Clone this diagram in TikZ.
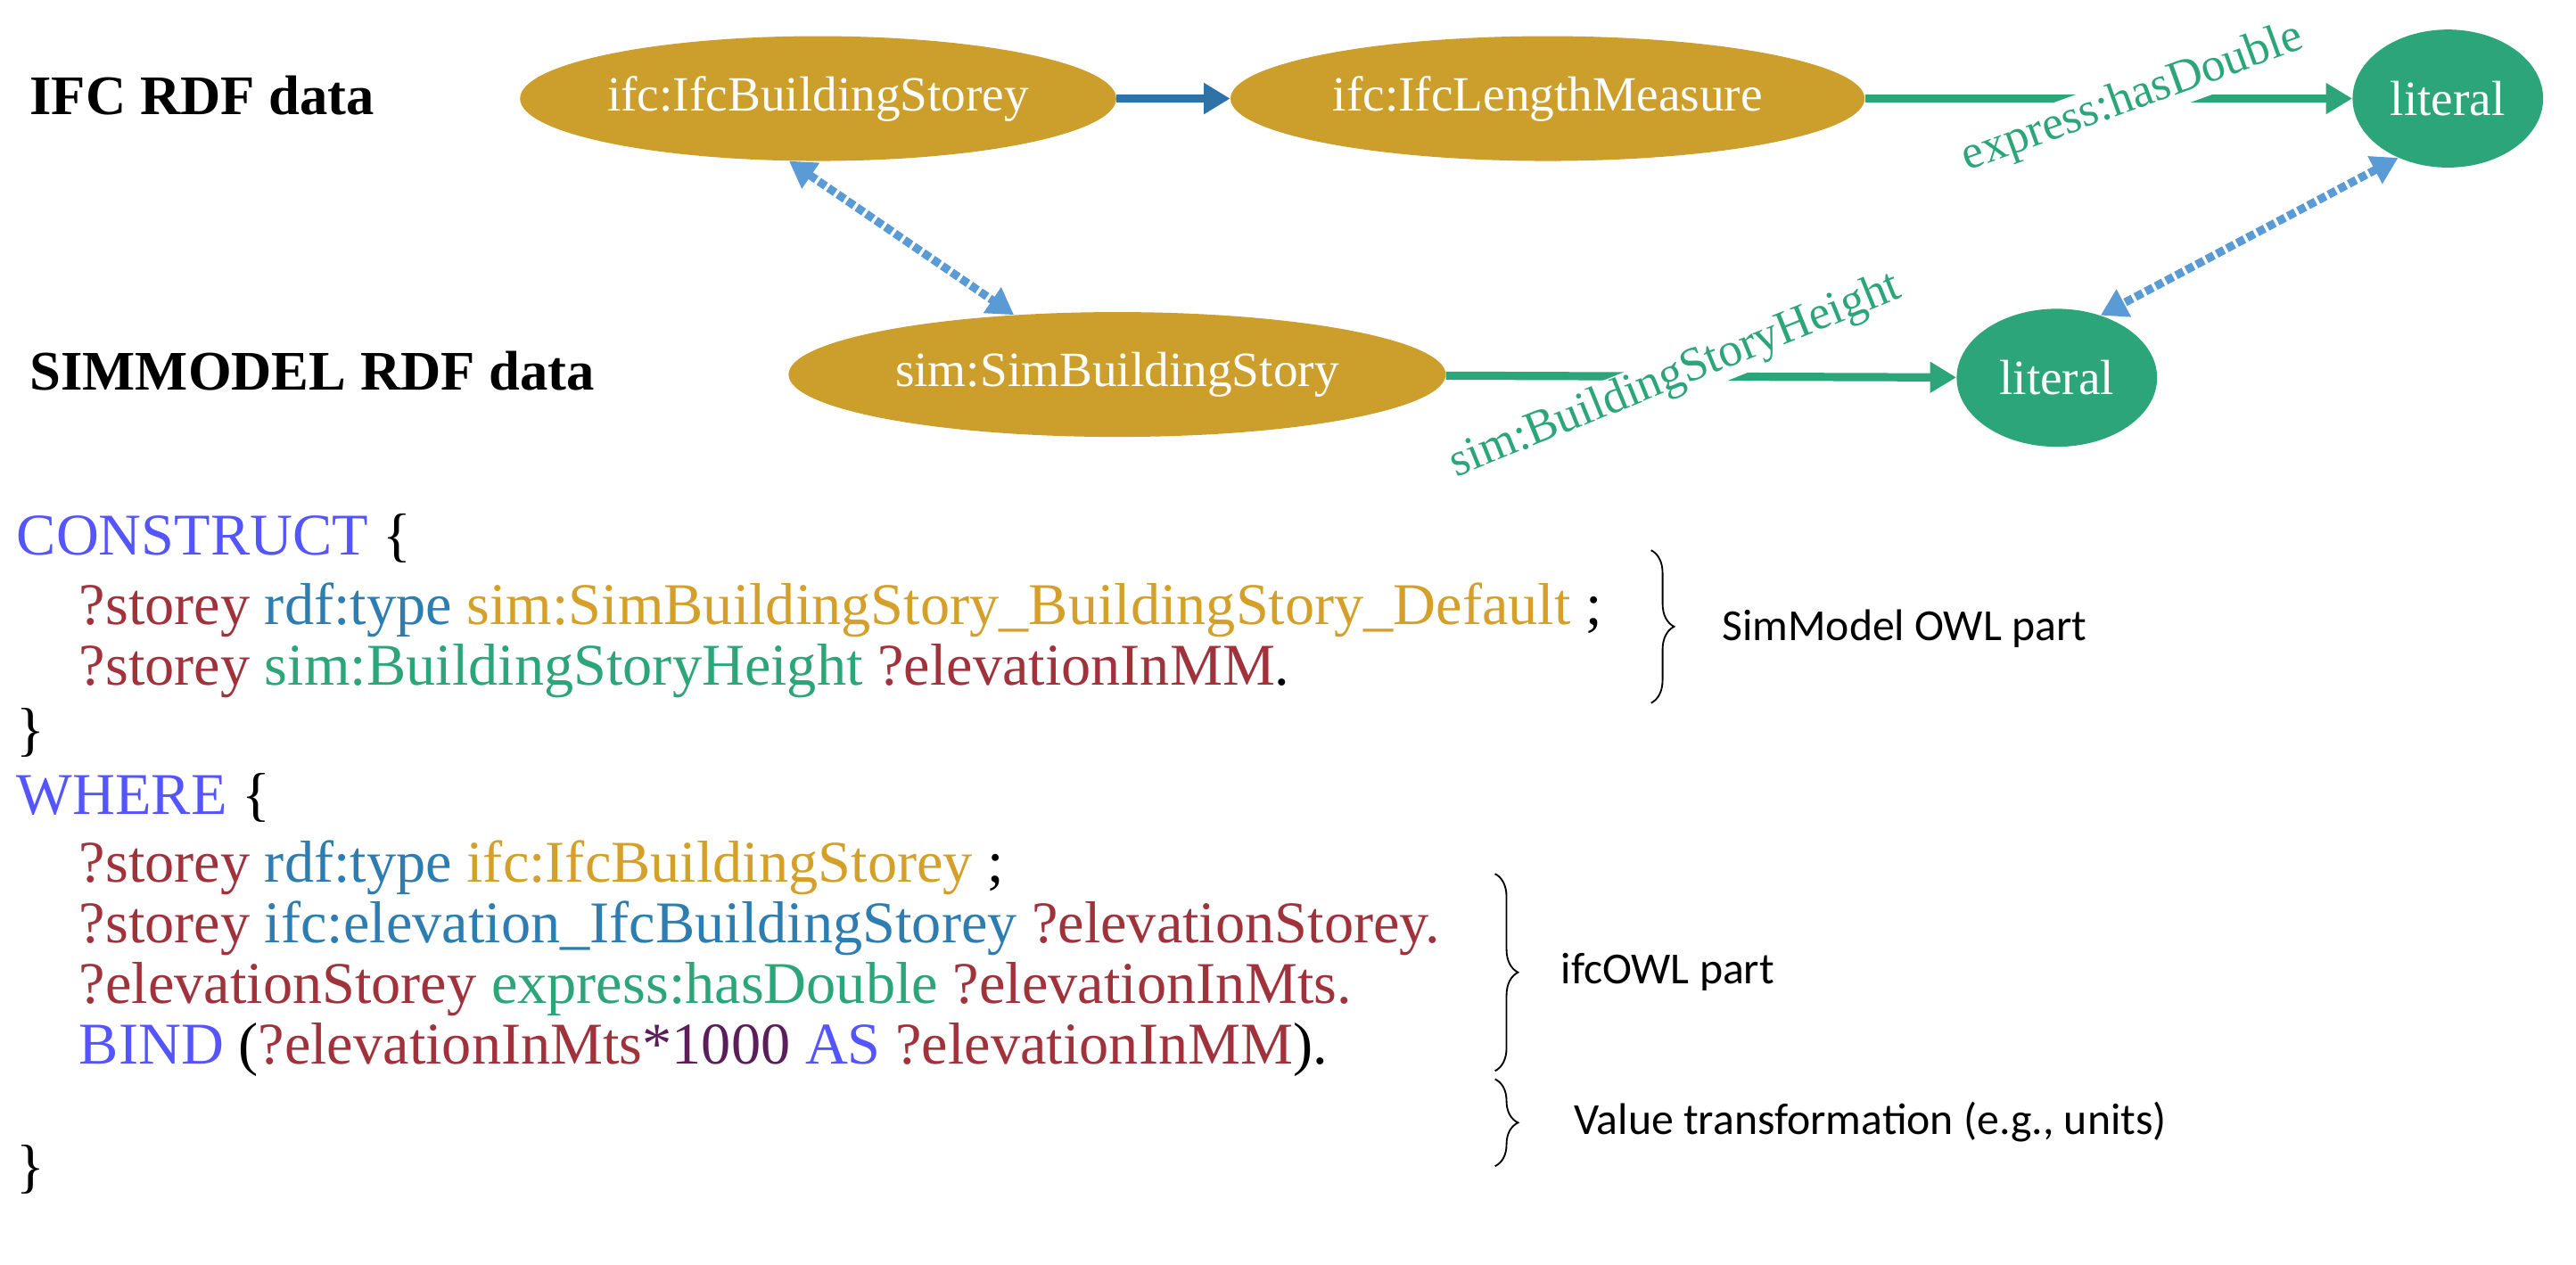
\documentclass[tikz,border=0pt]{standalone}
\usepackage{fontspec}
\setmainfont{Liberation Serif}
\newfontfamily\carfont{Carlito}
\usetikzlibrary{shapes.geometric,arrows.meta,decorations.pathreplacing}
\definecolor{gold}{HTML}{CC9F2C}
\definecolor{grn}{HTML}{2CA57A}
\definecolor{dblue}{HTML}{2E72A8}
\definecolor{lblue}{HTML}{5B9BD5}
\definecolor{kw}{HTML}{5555FF}
\definecolor{vr}{HTML}{A0323C}
\definecolor{pr}{HTML}{2E7DB0}
\definecolor{cl}{HTML}{D4A02A}
\definecolor{num}{HTML}{5A1E5A}
\begin{document}
\begin{tikzpicture}[x=1pt,y=-1pt,
  ell/.style={ellipse,fill=gold,inner sep=0pt,text=white,font=\fontsize{30}{34}\selectfont},
  lit/.style={ellipse,fill=grn,inner sep=0pt,text=white,font=\fontsize{30}{34}\selectfont},
  code/.style={anchor=base west,inner sep=0pt,font=\fontsize{36}{40}\selectfont},
  side/.style={anchor=west,inner sep=0pt,font=\carfont\fontsize{27}{32}\selectfont},
  hd/.style={anchor=west,inner sep=0pt,font=\bfseries\fontsize{34}{38}\selectfont},
  gline/.style={grn,line width=5pt,-{Triangle[length=16pt,width=18pt]}},
  elab/.style={fill=white,text=grn,inner sep=1pt,font=\fontsize{29}{32}\selectfont},
  dbl/.style={lblue,line width=5pt,dotted,{Triangle[length=16pt,width=18pt]}-{Triangle[length=16pt,width=18pt]}},
  br/.style={decorate,decoration={brace,amplitude=14pt},line width=1pt}]
\useasboundingbox (0,0) rectangle (1568,770);
\node[hd] (h1) at (18,58) {IFC RDF data};
\node[hd] (h2) at (18,226) {SIMMODEL RDF data};
\node[ell,minimum width=300pt,minimum height=76pt] (A) at (498,60) {ifc:IfcBuildingStorey};
\node[ell,minimum width=386pt,minimum height=76pt] (B) at (942,60) {ifc:IfcLengthMeasure};
\node[lit,minimum width=116pt,minimum height=84pt] (L1) at (1490,60) {literal};
\node[ell,minimum width=400pt,minimum height=76pt] (C) at (680,228) {sim:SimBuildingStory};
\node[lit,minimum width=122pt,minimum height=84pt] (L2) at (1252,230) {literal};
\draw[dblue,line width=5pt,-{Triangle[length=16pt,width=18pt]}] (A) -- (B);
\draw[gline] (B) -- node[elab,rotate=20,pos=0.55] {express:hasDouble} (L1);
\draw[gline] (C) -- node[elab,rotate=22,pos=0.45] {sim:BuildingStoryHeight} (L2);
\draw[dbl] (A.-115) -- (C.150);
\draw[dbl] (L1.-130) -- (L2.55);
\node[code,text=kw] (c1) at (10,338) {CONSTRUCT \textcolor{black}{\{}};
\node[code] (c2) at (48,380) {\textcolor{vr}{?storey} \textcolor{pr}{rdf:type} \textcolor{cl}{sim:SimBuildingStory\_BuildingStory\_Default} ;};
\node[code] (c3) at (48,417) {\textcolor{vr}{?storey} \textcolor{grn}{sim:BuildingStoryHeight} \textcolor{vr}{?elevationInMM}.};
\node[code] (c4) at (10,456) {\}};
\node[code,text=kw] (c5) at (10,496) {WHERE \textcolor{black}{\{}};
\node[code] (c6) at (48,537) {\textcolor{vr}{?storey} \textcolor{pr}{rdf:type} \textcolor{cl}{ifc:IfcBuildingStorey} ;};
\node[code] (c7) at (48,574) {\textcolor{vr}{?storey} \textcolor{pr}{ifc:elevation\_IfcBuildingStorey} \textcolor{vr}{?elevationStorey.}};
\node[code] (c8) at (48,611) {\textcolor{vr}{?elevationStorey} \textcolor{grn}{express:hasDouble} \textcolor{vr}{?elevationInMts.}};
\node[code] (c9) at (48,648) {\textcolor{kw}{BIND} (\textcolor{vr}{?elevationInMts}\textcolor{num}{*1000} \textcolor{kw}{AS} \textcolor{vr}{?elevationInMM}).};
\node[code] (c10) at (10,722) {\}};
\coordinate (b1t) at (1005,335); \coordinate (b1b) at (1005,428);
\draw[br] (b1t) -- (b1b);
\node[side] (s1) at (1048,383) {SimModel OWL part};
\coordinate (b2t) at (910,532); \coordinate (b2b) at (910,652);
\draw[br] (b2t) -- (b2b);
\node[side] (s2) at (950,592) {ifcOWL part};
\coordinate (b3t) at (910,657); \coordinate (b3b) at (910,710);
\draw[br] (b3t) -- (b3b);
\node[side] (s3) at (958,683) {Value transformation (e.g., units)};
\end{tikzpicture}
\end{document}
